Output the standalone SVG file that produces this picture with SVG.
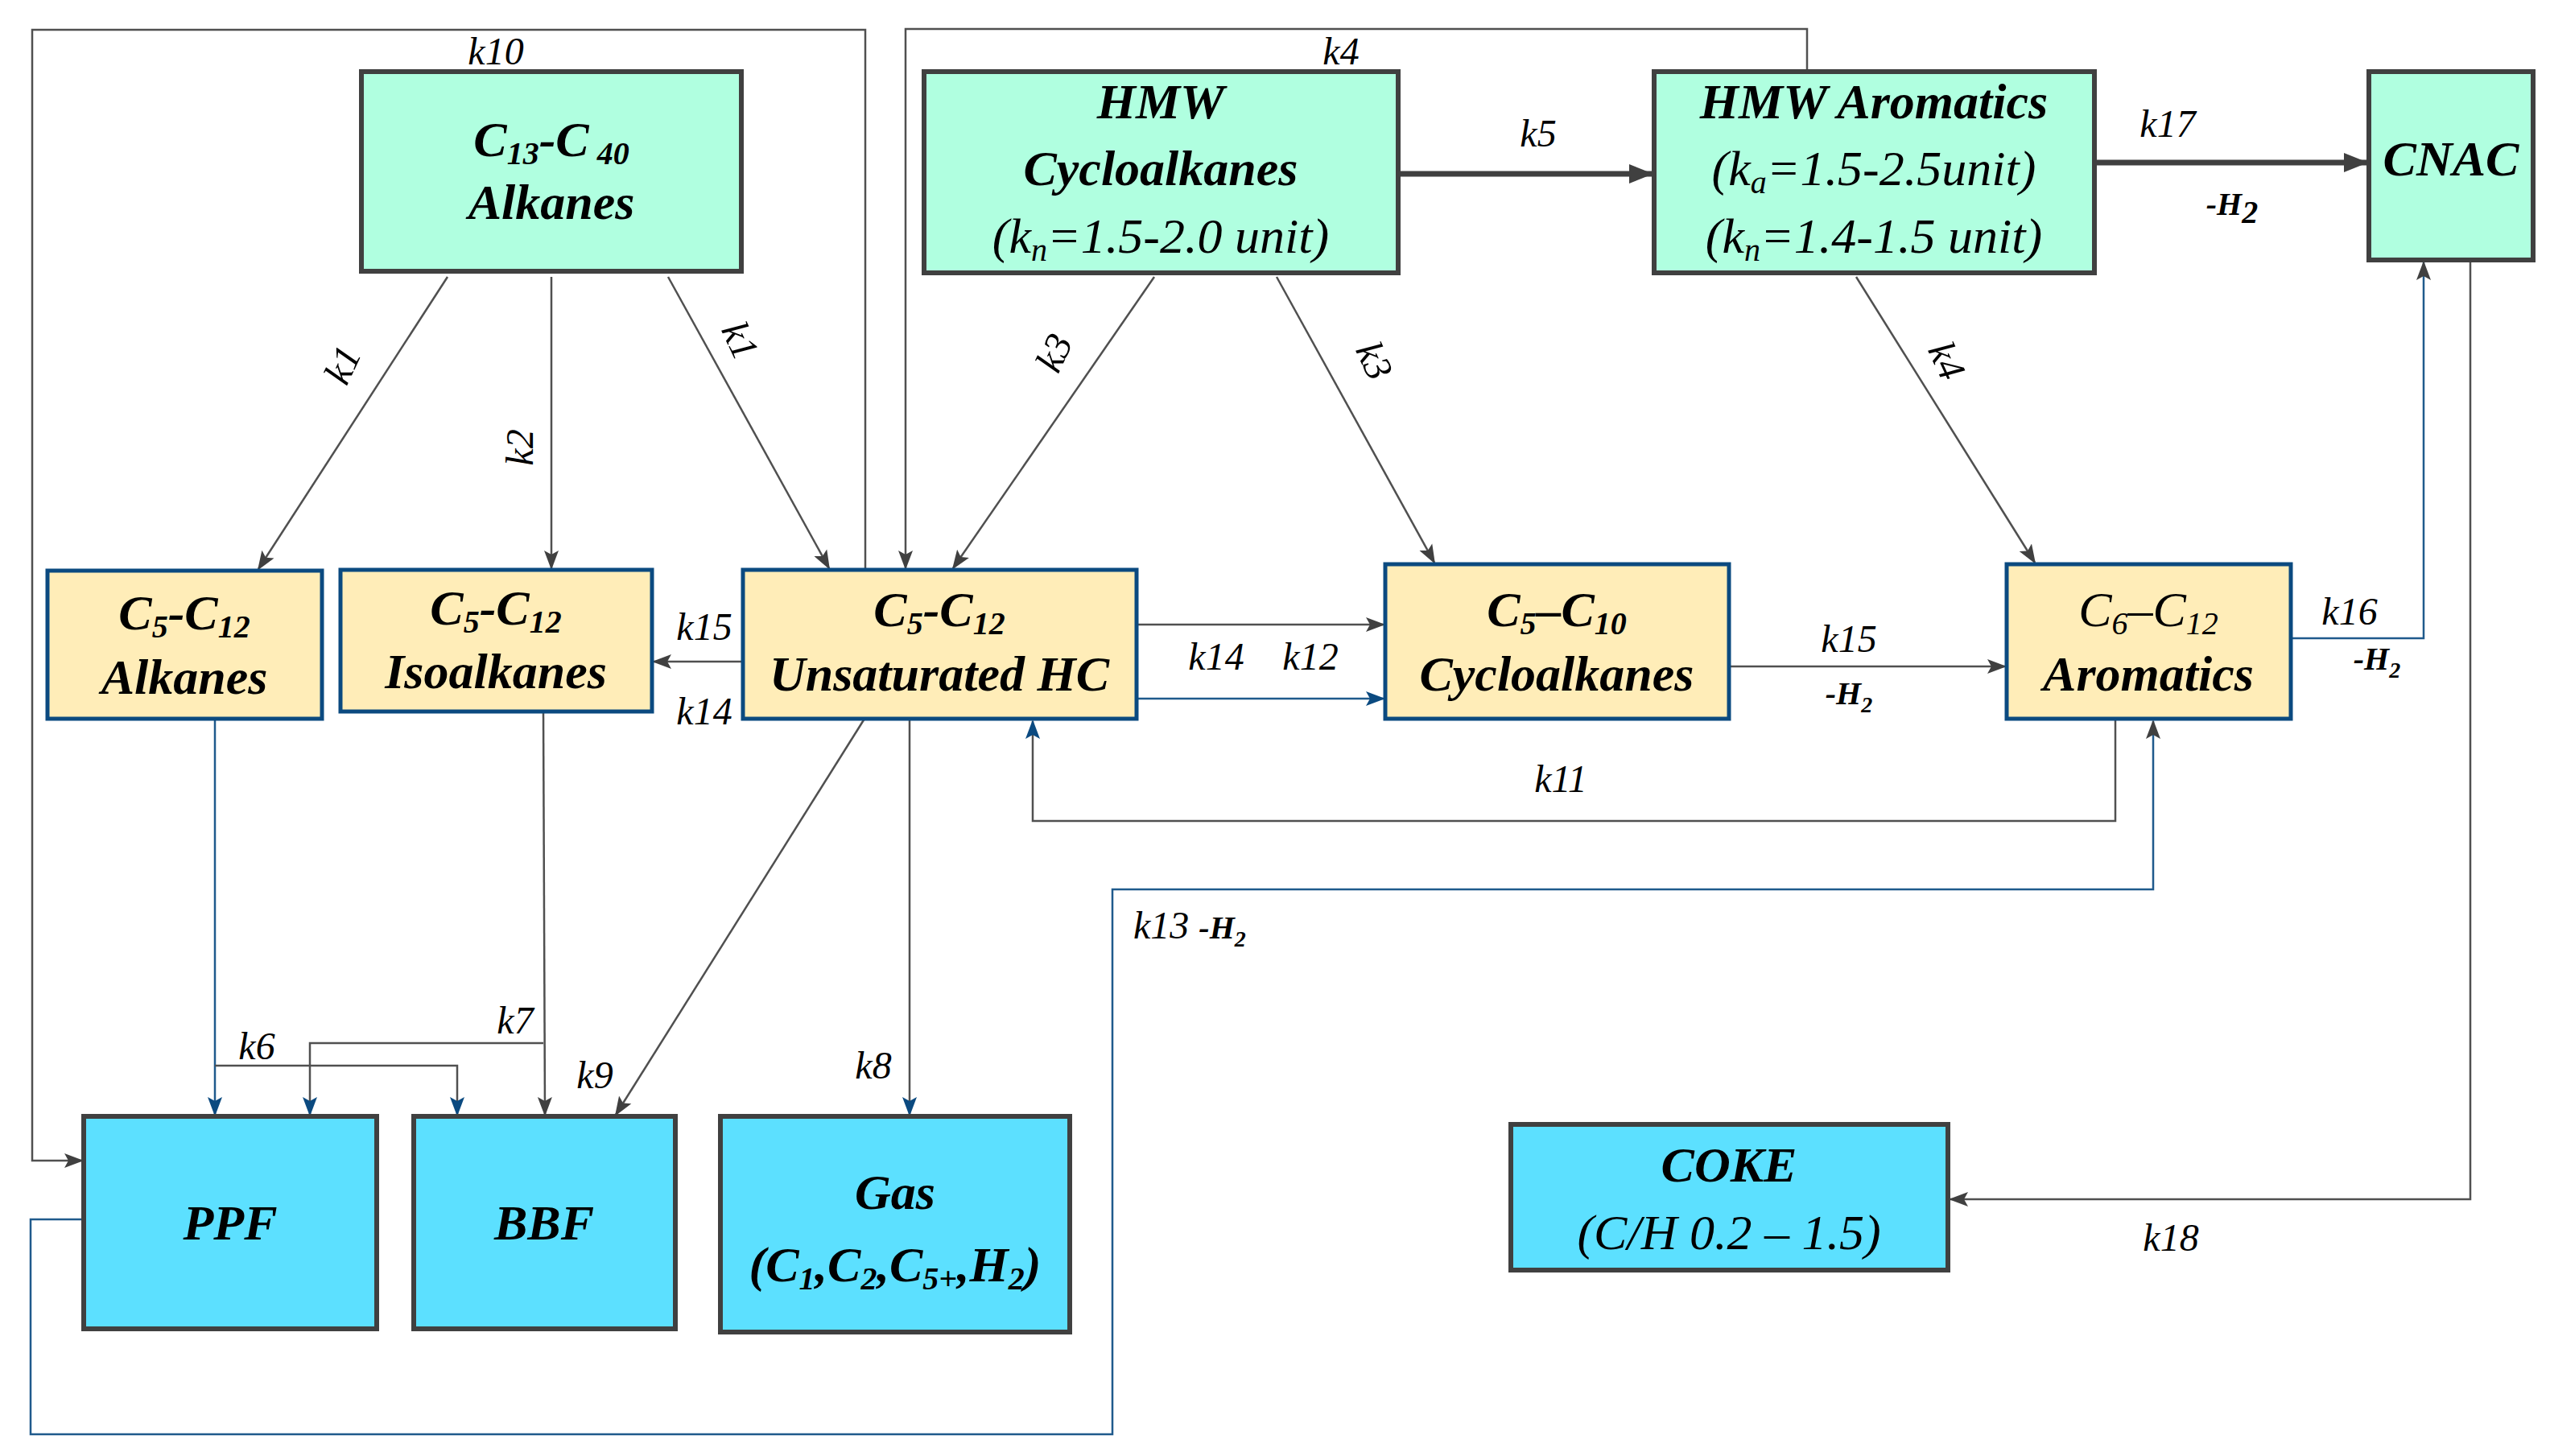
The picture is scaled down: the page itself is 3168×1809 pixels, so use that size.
<svg xmlns="http://www.w3.org/2000/svg" width="3168" height="1809" viewBox="0 0 3168 1809">
<style>
.g{fill:#B0FFE0;stroke:#404040;stroke-width:6}
.y{fill:#FFEDB8;stroke:#0B4A80;stroke-width:5}
.c{fill:#5CE0FF;stroke:#404040;stroke-width:6}
text{font-family:"Liberation Serif","Times New Roman",serif;font-style:italic;fill:#000}
.n{font-size:62px;font-weight:bold;text-anchor:middle}
.nr{font-size:62px;text-anchor:middle}
.k{font-size:48px;text-anchor:middle}
.h{font-size:40px;font-weight:bold;text-anchor:middle}
.s{font-size:40px}
.l{fill:none;stroke:#505050;stroke-width:2.5}
.b{fill:none;stroke:#1F5A8C;stroke-width:2.5}
.t{fill:none;stroke:#404040;stroke-width:7}
</style>
<defs>
<marker id="ad" markerUnits="userSpaceOnUse" markerWidth="24" markerHeight="24" viewBox="0 0 24 24" refX="22" refY="12" orient="auto"><path d="M0,3 L24,12 L0,21 L5,12 Z" fill="#404040"/></marker>
<marker id="ab" markerUnits="userSpaceOnUse" markerWidth="24" markerHeight="24" viewBox="0 0 24 24" refX="22" refY="12" orient="auto"><path d="M0,3 L24,12 L0,21 L5,12 Z" fill="#0B4A80"/></marker>
<marker id="at" markerUnits="userSpaceOnUse" markerWidth="30" markerHeight="30" viewBox="0 0 30 30" refX="28" refY="15" orient="auto"><path d="M0,3 L30,15 L0,27 Z" fill="#404040"/></marker>
</defs>
<rect width="3168" height="1809" fill="#fff"/>
<g id="connectors">
<polyline class="l" points="1075,708 1075,37 40,37 40,1442 102,1442" marker-end="url(#ad)"/>
<polyline class="l" points="2245,89 2245,36 1125,36 1125,706" marker-end="url(#ad)"/>
<line class="l" x1="556" y1="344" x2="321" y2="707" marker-end="url(#ad)"/>
<line class="l" x1="685" y1="344" x2="685" y2="706" marker-end="url(#ad)"/>
<line class="l" x1="830" y1="344" x2="1030" y2="706" marker-end="url(#ad)"/>
<line class="l" x1="1434" y1="344" x2="1184" y2="706" marker-end="url(#ad)"/>
<line class="l" x1="1586" y1="344" x2="1782" y2="699" stroke="#202020" marker-end="url(#ad)"/>
<line class="t" x1="1740" y1="216" x2="2052" y2="216" marker-end="url(#at)"/>
<line class="t" x1="2602" y1="202" x2="2940" y2="202" marker-end="url(#at)"/>
<line class="l" x1="2306" y1="344" x2="2528" y2="699" marker-end="url(#ad)"/>
<polyline class="b" points="2846,793 3011,793 3011,326" marker-end="url(#ad)"/>
<polyline class="l" points="3069,323 3069,1490 2423,1490" marker-end="url(#ad)"/>
<line class="l" x1="2148" y1="828" x2="2491" y2="828" marker-end="url(#ad)"/>
<line class="l" x1="1412" y1="776" x2="1719" y2="776" marker-end="url(#ad)"/>
<line class="b" x1="1412" y1="868" x2="1719" y2="868" marker-end="url(#ab)"/>
<line class="l" x1="923" y1="822" x2="812" y2="822" marker-end="url(#ad)"/>
<polyline class="l" points="2628,893 2628,1020 1283,1020 1283,896" marker-end="url(#ab)"/>
<polyline class="b" points="104,1515 38,1515 38,1782 1382,1782 1382,1105 2675,1105 2675,896" marker-end="url(#ad)"/>
<line class="b" x1="267" y1="893" x2="267" y2="1385" marker-end="url(#ab)"/>
<polyline class="l" points="267,1324 568,1324 568,1385" marker-end="url(#ab)"/>
<line class="l" x1="675" y1="884" x2="677" y2="1385" marker-end="url(#ad)"/>
<polyline class="l" points="675,1296 385,1296 385,1385" marker-end="url(#ab)"/>
<line class="l" x1="1074" y1="893" x2="765" y2="1385" stroke="#777" marker-end="url(#ad)"/>
<line class="l" x1="1130" y1="893" x2="1130" y2="1385" marker-end="url(#ab)"/>
</g>
<g id="labels">
<text class="k" x="616" y="80">k10</text>
<text class="k" x="1666" y="80">k4</text>
<text class="k" transform="translate(440,460) rotate(-65)">k1</text>
<text class="k" transform="translate(662,556) rotate(-90)">k2</text>
<text class="k" transform="translate(905,430) rotate(65)">k1</text>
<text class="k" transform="translate(1324,445) rotate(-65)">k3</text>
<text class="k" transform="translate(1693,455) rotate(65)">k3</text>
<text class="k" transform="translate(2404,455) rotate(65)">k4</text>
<text class="k" x="1911" y="182">k5</text>
<text class="k" x="2693" y="170">k17</text>
<text class="h" x="2773" y="267">-H<tspan class="s" font-size="28" dy="10">2</tspan></text>
<text class="k" x="875" y="795">k15</text>
<text class="k" x="875" y="900">k14</text>
<text class="k" x="1511" y="832">k14</text>
<text class="k" x="1628" y="832">k12</text>
<text class="k" x="2297" y="810">k15</text>
<text class="h" x="2297" y="875">-H<tspan font-size="28" dy="10">2</tspan></text>
<text class="k" x="2919" y="776">k16</text>
<text class="h" x="2953" y="832">-H<tspan font-size="28" dy="10">2</tspan></text>
<text class="k" x="1939" y="984">k11</text>
<text x="1408" y="1166" font-size="48">k13 <tspan font-weight="bold" font-size="40">-H<tspan font-size="28" dy="10">2</tspan></tspan></text>
<text class="k" x="319" y="1316">k6</text>
<text class="k" x="640" y="1284">k7</text>
<text class="k" x="739" y="1352">k9</text>
<text class="k" x="1085" y="1340">k8</text>
<text class="k" x="2697" y="1554">k18</text>
</g>
<g id="n-c13"><rect class="g" x="449" y="89" width="472" height="248"/><text class="n" x="685" y="194">C<tspan font-size="40" dy="10">13</tspan><tspan dy="-10">-C</tspan><tspan font-size="40" dy="10"> 40</tspan></text><text class="n" x="685" y="272">Alkanes</text></g>
<g id="n-hmwc"><rect class="g" x="1148" y="89" width="589" height="250"/><text class="n" x="1442" y="147">HMW</text><text class="n" x="1442" y="230">Cycloalkanes</text><text class="nr" x="1442" y="314">(k<tspan font-size="40" dy="10">n</tspan><tspan dy="-10">=1.5-2.0 unit)</tspan></text></g>
<g id="n-hmwa"><rect class="g" x="2055" y="89" width="547" height="250"/><text class="n" x="2328" y="147">HMW Aromatics</text><text class="nr" x="2328" y="230">(k<tspan font-size="40" dy="10">a</tspan><tspan dy="-10">=1.5-2.5unit)</tspan></text><text class="nr" x="2328" y="314">(k<tspan font-size="40" dy="10">n</tspan><tspan dy="-10">=1.4-1.5 unit)</tspan></text></g>
<g id="n-cnac"><rect class="g" x="2943" y="89" width="204" height="234"/><text class="n" x="3045" y="218" font-size="52">CNAC</text></g>
<g id="n-alk"><rect class="y" x="59" y="709" width="341" height="184"/><text class="n" x="229" y="782">C<tspan font-size="40" dy="10">5</tspan><tspan dy="-10">-C</tspan><tspan font-size="40" dy="10">12</tspan></text><text class="n" x="229" y="862">Alkanes</text></g>
<g id="n-iso"><rect class="y" x="423" y="708" width="387" height="176"/><text class="n" x="616" y="776">C<tspan font-size="40" dy="10">5</tspan><tspan dy="-10">-C</tspan><tspan font-size="40" dy="10">12</tspan></text><text class="n" x="616" y="855">Isoalkanes</text></g>
<g id="n-unsat"><rect class="y" x="923" y="708" width="489" height="185"/><text class="n" x="1167" y="778">C<tspan font-size="40" dy="10">5</tspan><tspan dy="-10">-C</tspan><tspan font-size="40" dy="10">12</tspan></text><text class="n" x="1167" y="858">Unsaturated HC</text></g>
<g id="n-cyclo"><rect class="y" x="1721" y="701" width="427" height="192"/><text class="n" x="1934" y="778">C<tspan font-size="40" dy="10">5</tspan><tspan dy="-10">–C</tspan><tspan font-size="40" dy="10">10</tspan></text><text class="n" x="1934" y="858">Cycloalkanes</text></g>
<g id="n-arom"><rect class="y" x="2493" y="701" width="353" height="192"/><text class="nr" x="2669" y="778">C<tspan font-size="40" dy="10">6</tspan><tspan dy="-10">–C</tspan><tspan font-size="40" dy="10">12</tspan></text><text class="n" x="2669" y="858">Aromatics</text></g>
<g id="n-ppf"><rect class="c" x="104" y="1387" width="364" height="264"/><text class="n" x="286" y="1540">PPF</text></g>
<g id="n-bbf"><rect class="c" x="514" y="1387" width="325" height="264"/><text class="n" x="676" y="1540">BBF</text></g>
<g id="n-gas"><rect class="c" x="895" y="1387" width="434" height="268"/><text class="n" x="1112" y="1502">Gas</text><text class="n" x="1112" y="1592">(C<tspan font-size="40" dy="10">1</tspan><tspan dy="-10">,C</tspan><tspan font-size="40" dy="10">2</tspan><tspan dy="-10">,C</tspan><tspan font-size="40" dy="10">5+</tspan><tspan dy="-10">,H</tspan><tspan font-size="40" dy="10">2</tspan><tspan dy="-10">)</tspan></text></g>
<g id="n-coke"><rect class="c" x="1877" y="1397" width="543" height="181"/><text class="n" x="2148" y="1468">COKE</text><text class="nr" x="2148" y="1552">(C/H 0.2 – 1.5)</text></g>
</svg>
